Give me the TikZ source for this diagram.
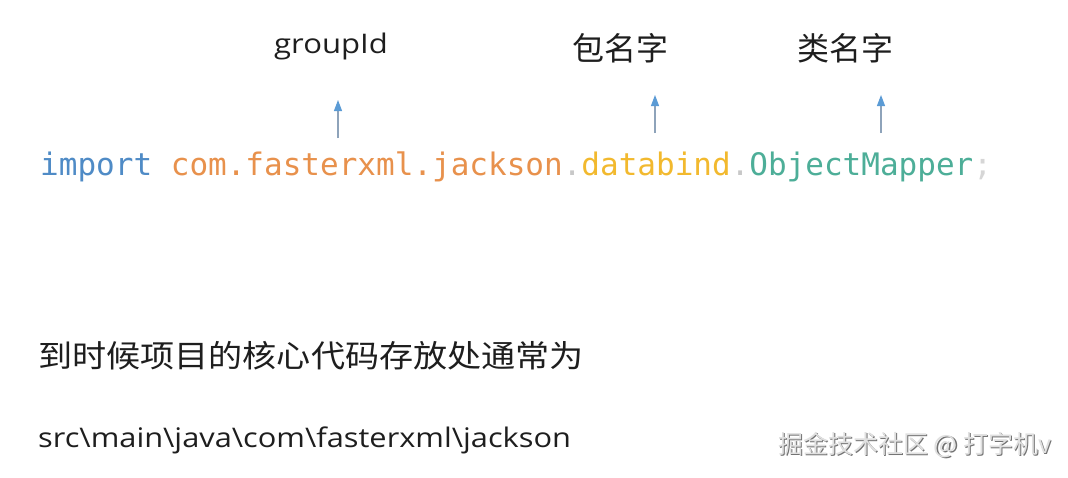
\documentclass[tikz,border=0pt]{standalone}
\usepackage{fontspec}
\usepackage{graphicx}
\usetikzlibrary{arrows.meta}
\newfontfamily\cjk{Noto Sans CJK SC}
\newfontfamily\lat{Open Sans}
\newfontfamily\mono{DejaVu Sans Mono}
\definecolor{cimport}{HTML}{4F8BC6}
\definecolor{cpkg}{HTML}{E8914C}
\definecolor{cbind}{HTML}{F2B92E}
\definecolor{cclass}{HTML}{4DAE98}
\definecolor{cdot}{HTML}{C8C8C8}
\definecolor{csemi}{HTML}{D6D6D6}
\definecolor{arrline}{HTML}{8EA3BA}
\definecolor{arrhead}{HTML}{5B9BD5}
\definecolor{txt}{HTML}{1E1E1E}
\begin{document}
\begin{tikzpicture}[x=1pt,y=-1pt,
  lbl/.style={inner sep=0pt, text=txt},
  uparrow/.style={draw=arrline, line width=1.1pt, -{Triangle[width=8pt,length=11pt,color=arrhead]}}]
\useasboundingbox[fill=white] (0,0) rectangle (1068,477);
% labels
\node[lbl, anchor=base] (gid) at (331,53) {\lat\fontsize{27}{27}\selectfont\scalebox{1.15}[1]{groupId}};
\node[lbl, anchor=base] (pkg) at (620,60) {\cjk\fontsize{32}{32}\selectfont 包名字};
\node[lbl, anchor=base] (cls) at (845,60) {\cjk\fontsize{32}{32}\selectfont 类名字};
% code line
\node[inner sep=0pt, anchor=base west] (code) at (40,175) {\mono\fontsize{31}{31}\selectfont\textcolor{cimport}{import} \textcolor{cpkg}{com.fasterxml.jackson}\textcolor{cdot}{.}\textcolor{cbind}{databind}\textcolor{cdot}{.}\textcolor{cclass}{ObjectMapper}\textcolor{csemi}{;}};
% arrows
\coordinate (a1s) at (338,138); \coordinate (a1e) at (338,100);
\coordinate (a2s) at (655,133); \coordinate (a2e) at (655,95);
\coordinate (a3s) at (881,133); \coordinate (a3e) at (881,95);
\draw[uparrow] (a1s) -- (a1e);
\draw[uparrow] (a2s) -- (a2e);
\draw[uparrow] (a3s) -- (a3e);
% bottom texts
\node[lbl, anchor=base west] (desc) at (38,367) {\cjk\fontsize{31}{31}\selectfont\scalebox{1.1}[1]{到时候项目的核心代码存放处通常为}};
\node[lbl, anchor=base west] (path) at (38,447) {\lat\fontsize{27}{27}\selectfont\scalebox{1.14}[1]{src\textbackslash main\textbackslash java\textbackslash com\textbackslash fasterxml\textbackslash jackson}};
% watermark
\node[inner sep=0pt, anchor=base west, text=black!55] (wmshadow) at (779.5,454.5) {\cjk\fontsize{25}{25}\selectfont 掘金技术社区 @ 打字机v};
\node[inner sep=0pt, anchor=base west, text=black!12] (wm) at (778,453) {\cjk\fontsize{25}{25}\selectfont 掘金技术社区 @ 打字机v};
\end{tikzpicture}
\end{document}
